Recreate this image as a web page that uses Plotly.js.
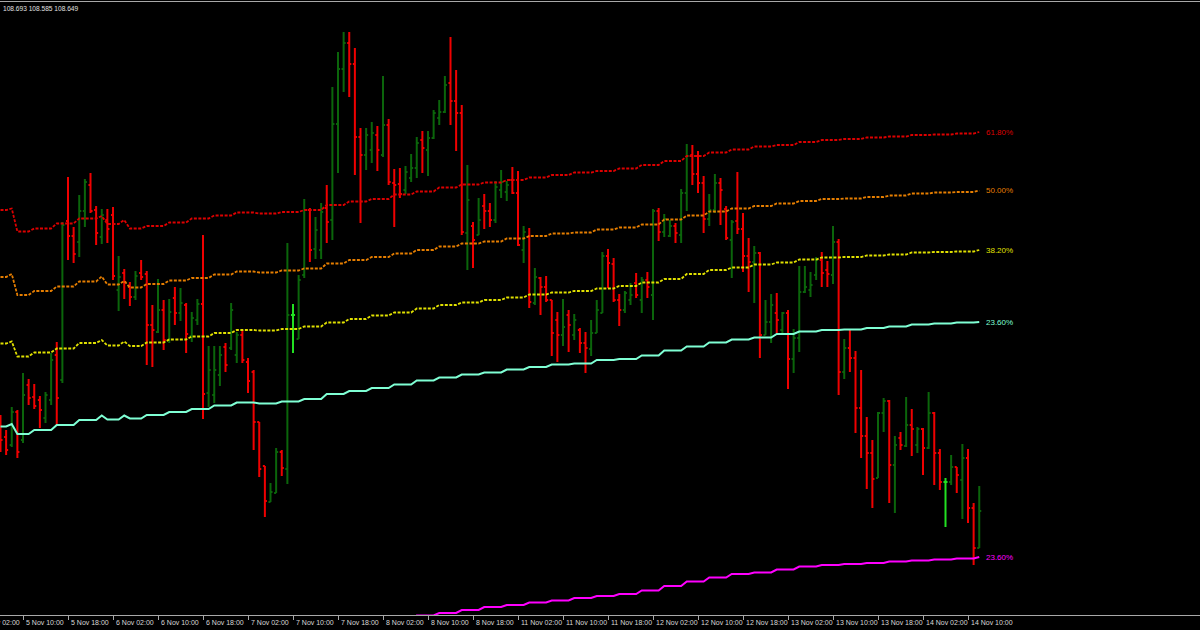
<!DOCTYPE html>
<html>
<head>
<meta charset="utf-8">
<script src="https://cdn.plot.ly/plotly-3.0.1.min.js"></script>
<style>html,body{margin:0;padding:0;background:#000;}#chart{width:1200px;height:630px;}</style>
</head>
<body>
<div id="chart"></div>
<script>
// ---- hourly bars, USDJPY H1 (index 0 = 5 Nov 06:00) ----
const openP = [108.830,108.796,108.780,108.846,108.790,108.900,108.876,108.870,108.834,108.870,
108.960,108.910,109.228,109.198,109.186,109.248,109.300,109.250,109.196,109.230,
109.240,109.090,109.124,109.096,109.076,109.124,109.122,109.020,109.006,109.050,
108.990,109.074,109.044,109.060,108.998,109.030,109.062,108.884,108.880,108.920,
108.976,108.974,108.960,109.000,108.946,108.926,108.826,108.738,108.666,108.684,
108.766,108.732,109.040,108.992,109.120,109.250,109.172,109.170,109.254,109.230,
109.422,109.532,109.584,109.542,109.396,109.360,109.370,109.400,109.360,109.420,
109.304,109.302,109.290,109.314,109.334,109.390,109.370,109.394,109.434,109.446,
109.504,109.468,109.444,109.204,109.218,109.200,109.258,109.248,109.230,109.290,
109.286,109.310,109.284,109.170,109.196,109.064,109.114,109.096,109.070,109.030,
109.000,109.040,109.000,109.010,108.984,108.972,109.004,109.044,109.158,109.142,
109.070,109.050,109.070,109.104,109.070,109.110,109.080,109.248,109.206,109.198,
109.218,109.200,109.284,109.360,109.322,109.304,109.232,109.250,109.304,109.252,
109.190,109.228,109.212,109.158,109.146,109.164,109.000,109.026,109.044,109.010,
109.044,108.952,108.994,109.086,109.090,109.120,109.150,109.130,109.120,109.186,
108.926,108.974,108.954,108.854,108.798,108.764,108.714,108.844,108.868,108.740,
108.794,108.778,108.820,108.780,108.812,108.774,108.844,108.764,108.706,108.706,
108.736,108.710,108.754,108.654,108.574];
const highP = [108.840,108.810,108.856,108.850,108.924,108.912,108.902,108.878,108.886,108.964,
108.986,109.226,109.316,109.216,109.280,109.312,109.324,109.258,109.252,109.252,
109.256,109.158,109.132,109.106,109.128,109.150,109.128,109.060,109.112,109.070,
109.072,109.096,109.094,109.064,109.046,109.072,109.200,108.978,108.978,108.978,
108.984,109.064,109.006,109.010,108.954,108.930,108.826,108.738,108.704,108.774,
108.770,109.184,109.062,109.120,109.272,109.254,109.236,109.264,109.300,109.496,
109.566,109.606,109.606,109.574,109.414,109.414,109.426,109.418,109.518,109.432,
109.332,109.334,109.338,109.362,109.396,109.408,109.408,109.450,109.470,109.518,
109.596,109.530,109.460,109.340,109.226,109.274,109.282,109.264,109.308,109.330,
109.308,109.336,109.328,109.218,109.214,109.134,109.116,109.118,109.070,109.046,
109.072,109.050,109.042,109.014,109.006,109.030,109.070,109.166,109.172,109.154,
109.082,109.088,109.104,109.124,109.116,109.126,109.252,109.254,109.242,109.230,
109.224,109.292,109.382,109.380,109.368,109.318,109.282,109.322,109.314,109.258,
109.230,109.326,109.244,109.194,109.178,109.166,109.070,109.082,109.084,109.046,
109.050,109.012,109.138,109.138,109.126,109.156,109.166,109.148,109.218,109.192,
108.992,109.010,108.968,108.930,108.836,108.790,108.846,108.874,108.870,108.798,
108.806,108.876,108.852,108.816,108.814,108.886,108.846,108.772,108.714,108.760,
108.736,108.782,108.772,108.664,108.698];
const lowP = [108.766,108.760,108.776,108.754,108.784,108.860,108.852,108.814,108.824,108.860,
108.820,108.904,109.150,109.144,109.156,109.216,109.244,109.180,109.182,109.184,
109.110,109.048,109.072,109.058,109.070,109.110,108.940,108.936,109.004,108.970,
108.984,109.020,109.028,108.964,108.986,109.020,108.832,108.856,108.864,108.898,
108.926,108.970,108.944,108.944,108.884,108.770,108.716,108.636,108.666,108.684,
108.718,108.702,108.964,108.992,109.114,109.146,109.152,109.152,109.184,109.190,
109.324,109.486,109.476,109.320,109.224,109.330,109.344,109.328,109.356,109.300,
109.216,109.274,109.282,109.306,109.314,109.324,109.318,109.392,109.420,109.444,
109.420,109.368,109.200,109.130,109.134,109.200,109.212,109.216,109.224,109.274,
109.268,109.282,109.178,109.144,109.054,109.060,109.040,109.066,108.958,108.946,
108.978,108.966,108.990,108.964,108.924,108.958,109.004,109.044,109.094,109.066,
109.018,109.044,109.060,109.074,109.044,109.074,109.030,109.188,109.196,109.196,
109.184,109.184,109.248,109.300,109.284,109.204,109.218,109.244,109.220,109.190,
109.114,109.202,109.126,109.086,109.064,108.954,109.000,108.984,109.004,109.002,
108.892,108.924,108.966,109.084,109.076,109.110,109.096,109.096,109.102,108.880,
108.912,108.926,108.804,108.754,108.692,108.654,108.714,108.806,108.664,108.644,
108.770,108.776,108.758,108.764,108.720,108.772,108.700,108.690,108.616,108.700,
108.684,108.632,108.624,108.540,108.574];
const closeP = [108.790,108.770,108.846,108.766,108.880,108.874,108.858,108.850,108.880,108.950,
108.874,109.220,109.198,109.162,109.248,109.306,109.248,109.204,109.240,109.212,
109.118,109.116,109.106,109.076,109.118,109.116,109.020,109.010,109.050,108.990,
109.046,109.044,109.064,109.002,109.034,109.062,108.882,108.930,108.930,108.960,
108.940,109.050,109.000,108.950,108.908,108.826,108.732,108.668,108.686,108.766,
108.734,109.040,109.040,109.110,109.250,109.170,109.210,109.246,109.226,109.422,
109.532,109.584,109.542,109.396,109.360,109.400,109.404,109.370,109.420,109.306,
109.300,109.282,109.326,109.334,109.384,109.374,109.394,109.444,109.446,109.500,
109.468,109.444,109.206,109.270,109.190,109.230,109.248,109.230,109.296,109.306,
109.300,109.284,109.180,109.206,109.066,109.116,109.096,109.070,109.004,109.000,
109.016,109.020,109.030,108.984,108.974,109.004,109.050,109.158,109.144,109.070,
109.050,109.084,109.080,109.080,109.110,109.096,109.248,109.206,109.232,109.218,
109.204,109.284,109.358,109.322,109.304,109.232,109.250,109.304,109.290,109.194,
109.226,109.212,109.158,109.146,109.164,109.000,109.026,109.060,109.030,109.044,
108.952,108.994,109.086,109.096,109.100,109.150,109.124,109.122,109.186,108.926,
108.974,108.954,108.854,108.798,108.764,108.712,108.844,108.868,108.740,108.780,
108.780,108.820,108.812,108.812,108.774,108.844,108.764,108.706,108.706,108.736,
108.720,108.754,108.654,108.574,108.648];

// ---- indicator levels, constant over 4-hour steps (bar index ranges) ----
const stepStart = [0,2,3,6,10,14,18,19,22,23,26,30,34,38,42,46,50,54,58,62,66,70,74,78,82,86,90,94,98,102,106,110,114,118,122,126,130,134,138,142,146,150,154,158,162,166,170,174];
const stepEnd   = [1,2,5,9,13,17,18,21,22,25,29,33,37,41,45,49,53,57,61,65,69,73,77,81,85,89,93,97,101,105,109,113,117,121,125,129,133,137,141,145,149,153,157,161,165,169,173,174];
const lvl618 = [109.250,109.253,109.207,109.213,109.223,109.233,109.238,109.222,109.230,109.213,109.218,109.225,109.233,109.239,109.245,109.243,109.246,109.250,109.260,109.267,109.272,109.281,109.287,109.295,109.301,109.305,109.310,109.315,109.320,109.325,109.328,109.333,109.340,109.348,109.358,109.365,109.371,109.377,109.380,109.386,109.390,109.392,109.395,109.397,109.400,109.401,109.403,109.406];
const lvl500 = [109.116,109.122,109.080,109.088,109.097,109.107,109.117,109.101,109.108,109.095,109.102,109.109,109.114,109.121,109.127,109.125,109.129,109.133,109.143,109.150,109.156,109.163,109.170,109.177,109.183,109.187,109.193,109.198,109.203,109.205,109.211,109.215,109.221,109.231,109.239,109.247,109.253,109.258,109.263,109.268,109.272,109.273,109.276,109.279,109.283,109.285,109.286,109.289];
const lvl382 = [108.983,108.987,108.957,108.965,108.973,108.984,108.990,108.979,108.987,108.978,108.985,108.991,108.997,109.004,109.010,109.009,109.012,109.017,109.025,109.032,109.039,109.045,109.053,109.060,109.065,109.070,109.075,109.081,109.085,109.088,109.093,109.098,109.105,109.112,109.122,109.130,109.135,109.141,109.145,109.151,109.155,109.156,109.159,109.161,109.165,109.166,109.167,109.170];
const lvl236 = [108.817,108.822,108.802,108.810,108.820,108.830,108.839,108.831,108.839,108.833,108.840,108.846,108.852,108.859,108.865,108.863,108.867,108.872,108.882,108.888,108.894,108.901,108.909,108.915,108.921,108.925,108.931,108.936,108.941,108.943,108.950,108.952,108.959,108.969,108.977,108.985,108.991,108.995,109.002,109.007,109.010,109.011,109.014,109.017,109.021,109.023,109.025,109.026];
// lower 23.6% extension, known from step 21 onward
const lowStepFrom = 21;
const lvlLow236 = [108.431,108.439,108.444,108.450,108.456,108.460,108.465,108.469,108.474,108.478,108.482,108.489,108.498,108.507,108.515,108.522,108.525,108.531,108.537,108.540,108.542,108.544,108.547,108.549,108.551,108.553,108.556];

const levelNames = ["61.80%","50.00%","38.20%","23.60%","23.60%"];

// ---- time axis ----
const tickIdx = [4,12,20,28,36,44,52,60,68,76,84,92,100,108,116,124,132,140,148,156,164,172];
const tickTxt = ["5 Nov 10:00","5 Nov 18:00","6 Nov 02:00","6 Nov 10:00","6 Nov 18:00","7 Nov 02:00","7 Nov 10:00","7 Nov 18:00","8 Nov 02:00","8 Nov 10:00","8 Nov 18:00","11 Nov 02:00","11 Nov 10:00","11 Nov 18:00","12 Nov 02:00","12 Nov 10:00","12 Nov 18:00","13 Nov 02:00","13 Nov 10:00","13 Nov 18:00","14 Nov 02:00","14 Nov 10:00"];
const headerText = "108.693 108.585 108.649";

// ---- styles ----
const C_UP = "#0b650b", C_DN = "#f00000", C_DOJI = "#22e022";
const LV_COLORS = ["#dd0000","#e67e00","#e0e000","#7fffd4","#ff00ff"];

const idx = openP.map((_, i) => i);
const isDoji = i => openP[i] === closeP[i];
const pick = (arr, cond) => idx.filter(cond).map(i => arr[i]);
const norm = i => !isDoji(i);

function stepLine(vals, from) {
  const xs = [], ys = [];
  vals.forEach((v, k) => {
    const s = stepStart[k + from], e = stepEnd[k + from];
    xs.push(s); ys.push(v);
    if (e !== s) { xs.push(e); ys.push(v); }
  });
  return { xs, ys };
}

const traces = [];
traces.push({
  type: "ohlc", x: idx.filter(norm),
  open: pick(openP, norm), high: pick(highP, norm), low: pick(lowP, norm), close: pick(closeP, norm),
  increasing: { line: { color: C_UP, width: 2 } },
  decreasing: { line: { color: C_DN, width: 2 } },
  tickwidth: 0.36, hoverinfo: "skip"
});
traces.push({
  type: "ohlc", x: idx.filter(isDoji),
  open: pick(openP, isDoji), high: pick(highP, isDoji), low: pick(lowP, isDoji), close: pick(closeP, isDoji),
  increasing: { line: { color: C_DOJI, width: 2 } },
  decreasing: { line: { color: C_DOJI, width: 2 } },
  tickwidth: 0.36, hoverinfo: "skip"
});

const levelSets = [[lvl618,0],[lvl500,0],[lvl382,0],[lvl236,0],[lvlLow236,lowStepFrom]];
const annotations = [];
levelSets.forEach(([vals, from], n) => {
  const l = stepLine(vals, from);
  const dotted = n < 3;
  traces.push({
    type: "scatter", mode: "lines", x: l.xs, y: l.ys, hoverinfo: "skip",
    line: { color: LV_COLORS[n], width: dotted ? 1.8 : 2, dash: dotted ? "3px,1.5px" : "solid" }
  });
  annotations.push({
    xref: "x", yref: "y", x: 174.8, y: vals[vals.length - 1], xanchor: "left", yanchor: "middle",
    text: levelNames[n], showarrow: false,
    font: { family: "Liberation Sans", size: 8, color: LV_COLORS[n] }
  });
});

annotations.push({
  xref: "paper", yref: "paper", x: 0.001, y: 1, xanchor: "left", yanchor: "top", yshift: -1,
  text: headerText, showarrow: false,
  font: { family: "Liberation Sans", size: 6.6, color: "#e0e0e0" }
});
annotations.push({
  xref: "paper", yref: "paper", x: -20 / 1200, y: 0, xanchor: "left", yanchor: "top", yshift: -2,
  text: "5 Nov 02:00", showarrow: false,
  font: { family: "Liberation Sans", size: 7, color: "#d8d8d8" }
});

const layout = {
  width: 1200, height: 630,
  paper_bgcolor: "#000", plot_bgcolor: "#000",
  margin: { l: 0, r: 0, t: 2, b: 15 },
  showlegend: false,
  xaxis: {
    range: [-0.089, 213.244], showgrid: false, zeroline: false,
    showline: true, linecolor: "#a8a8a8", linewidth: 1, mirror: true,
    ticks: "outside", ticklen: 4, tickcolor: "#a8a8a8", tickwidth: 1,
    tickmode: "array", tickvals: tickIdx, ticktext: tickTxt, tickangle: 0,
    ticklabelposition: "outside right", ticklabelstandoff: 1, ticklabelshift: 2,
    tickfont: { family: "Liberation Sans", size: 7, color: "#d8d8d8" },
    rangeslider: { visible: false }, fixedrange: true
  },
  yaxis: { range: [108.440, 109.666], visible: false, showgrid: false, zeroline: false, fixedrange: true },
  annotations: annotations
};

Plotly.newPlot("chart", traces, layout, { staticPlot: true, displayModeBar: false });
</script>
</body>
</html>
